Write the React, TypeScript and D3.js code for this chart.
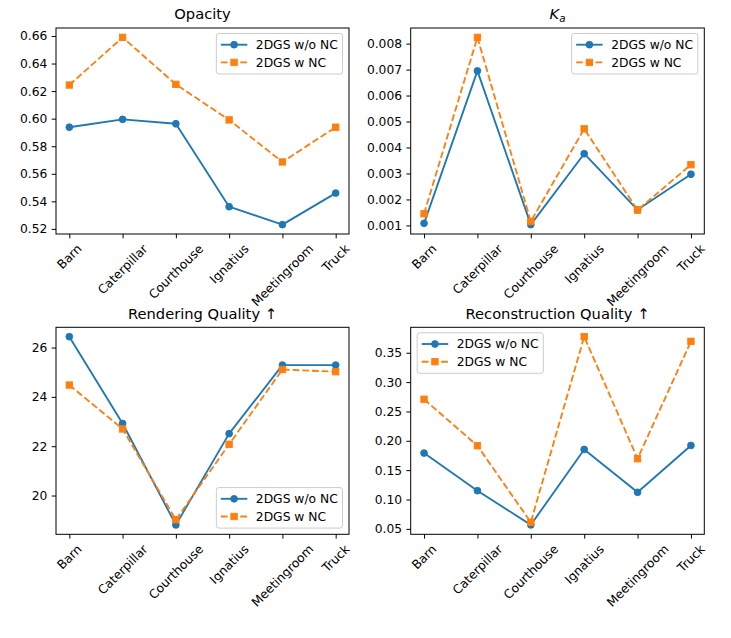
import React, { useEffect, useRef } from "react";
import * as d3 from "d3";

const scenes = ["Barn", "Caterpillar", "Courthouse", "Ignatius", "Meetingroom", "Truck"];
const seriesNames = ["2DGS w/o NC", "2DGS w NC"];

// values
const opacityWithout = [0.5938, 0.5995, 0.5963, 0.5361, 0.5231, 0.546];
const opacityWith = [0.6244, 0.659, 0.6249, 0.5991, 0.5686, 0.5938];
const kaWithout = [0.00108, 0.00695, 0.00103, 0.00376, 0.0016, 0.00297];
const kaWith = [0.00145, 0.00824, 0.00115, 0.00472, 0.00159, 0.00334];
const renderWithout = [26.44, 22.92, 18.81, 22.51, 25.29, 25.29];
const renderWith = [24.48, 22.7, 19.02, 22.08, 25.11, 25.02];
const reconWithout = [0.1791, 0.1151, 0.0568, 0.1853, 0.1123, 0.1921];
const reconWith = [0.2708, 0.1916, 0.0613, 0.3773, 0.1695, 0.3694];

const opacityTicks = [0.52, 0.54, 0.56, 0.58, 0.6, 0.62, 0.64, 0.66];
const kaTicks = [0.001, 0.002, 0.003, 0.004, 0.005, 0.006, 0.007, 0.008];
const renderTicks = [20, 22, 24, 26];
const reconTicks = [0.05, 0.1, 0.15, 0.2, 0.25, 0.3, 0.35];

const colors = ["#1f77b4", "#ff7f0e"];
const font = "DejaVu Sans, sans-serif";
const fs = 12.3;
const titleFs = 14.7;

type Panel = {
  title: string;
  without: number[];
  withNc: number[];
  ticks: number[];
  fmt: string;
  legend: "ur" | "lr" | "ul";
  left: number;
  right: number;
  top: number;
  bottom: number;
};

const cols = [[56, 349], [410.7, 704.3]];
const rows = [[28, 234], [327.3, 534.3]];

const panels: Panel[] = [
  { title: "Opacity", without: opacityWithout, withNc: opacityWith, ticks: opacityTicks, fmt: ".2f", legend: "ur",
    left: cols[0][0], right: cols[0][1], top: rows[0][0], bottom: rows[0][1] },
  { title: "K_a", without: kaWithout, withNc: kaWith, ticks: kaTicks, fmt: ".3f", legend: "ur",
    left: cols[1][0], right: cols[1][1], top: rows[0][0], bottom: rows[0][1] },
  { title: "Rendering Quality ↑", without: renderWithout, withNc: renderWith, ticks: renderTicks, fmt: "d", legend: "lr",
    left: cols[0][0], right: cols[0][1], top: rows[1][0], bottom: rows[1][1] },
  { title: "Reconstruction Quality ↑", without: reconWithout, withNc: reconWith, ticks: reconTicks, fmt: ".2f", legend: "ul",
    left: cols[1][0], right: cols[1][1], top: rows[1][0], bottom: rows[1][1] },
];

function drawMarker(g: any, i: number, cx: number, cy: number) {
  if (i === 0) {
    g.append("circle").attr("cx", cx).attr("cy", cy).attr("r", 3.4)
      .attr("fill", colors[0]).attr("stroke", colors[0]).attr("stroke-width", 0.9);
  } else {
    g.append("rect").attr("x", cx - 3.2).attr("y", cy - 3.2).attr("width", 6.4).attr("height", 6.4)
      .attr("fill", colors[1]).attr("stroke", colors[1]).attr("stroke-width", 0.9);
  }
}

function drawPanel(svg: any, p: Panel) {
  const x = d3.scaleLinear().domain([-0.25, scenes.length - 0.75]).range([p.left, p.right]);
  const all = [...p.without, ...p.withNc];
  const lo = d3.min(all)!;
  const hi = d3.max(all)!;
  const pad = (hi - lo) * 0.05;
  const y = d3.scaleLinear().domain([lo - pad, hi + pad]).range([p.bottom, p.top]);

  const g = svg.append("g");

  // title
  const title = g.append("text")
    .attr("x", (p.left + p.right) / 2)
    .attr("y", p.top - 8.6)
    .attr("text-anchor", "middle")
    .attr("font-family", font)
    .attr("font-size", titleFs)
    .attr("fill", "#000");
  if (p.title === "K_a") {
    title.append("tspan").attr("font-style", "italic").text("K");
    title.append("tspan").attr("font-style", "italic").attr("font-size", titleFs * 0.7).attr("dy", 3).text("a");
  } else {
    title.text(p.title);
  }

  // series
  const line = d3.line<number>().x((_, i) => x(i)).y((d) => y(d));
  [p.without, p.withNc].forEach((vals, si) => {
    const sg = g.append("g");
    sg.append("path")
      .attr("d", line(vals))
      .attr("fill", "none")
      .attr("stroke", colors[si])
      .attr("stroke-width", 1.85)
      .attr("stroke-linejoin", "round")
      .attr("stroke-dasharray", si === 1 ? "6.8,2.9" : null);
    vals.forEach((v, i) => drawMarker(sg, si, x(i), y(v)));
  });

  // y axis
  const yAxis = d3.axisLeft(y).tickValues(p.ticks).tickSize(4.3).tickPadding(4.3).tickFormat(d3.format(p.fmt) as any);
  const yg = g.append("g").attr("transform", `translate(${p.left},0)`).call(yAxis);
  yg.select(".domain").remove();
  yg.selectAll("line").attr("stroke", "#000").attr("stroke-width", 1);
  yg.selectAll("text").attr("font-family", font).attr("font-size", fs).attr("fill", "#000");

  // x axis
  const xAxis = d3.axisBottom(x).tickValues(d3.range(scenes.length)).tickSize(4.3).tickPadding(4.3)
    .tickFormat((d: any) => scenes[d as number]);
  const xg = g.append("g").attr("transform", `translate(0,${p.bottom})`).call(xAxis);
  xg.select(".domain").remove();
  xg.selectAll("line").attr("stroke", "#000").attr("stroke-width", 1);
  xg.selectAll("text")
    .attr("font-family", font)
    .attr("font-size", fs)
    .attr("fill", "#000")
    .attr("text-anchor", "middle")
    .attr("y", 0)
    .attr("dy", "0.3em")
    .each(function (this: SVGTextElement) {
      const w = this.getComputedTextLength();
      const cy = 8.6 + ((w + fs) * Math.SQRT1_2) / 2;
      d3.select(this).attr("transform", `translate(0,${cy}) rotate(-45)`);
    });

  // spines
  g.append("rect")
    .attr("x", p.left).attr("y", p.top)
    .attr("width", p.right - p.left).attr("height", p.bottom - p.top)
    .attr("fill", "none").attr("stroke", "#000").attr("stroke-width", 1);

  // legend
  const lg = g.append("g");
  const texts = seriesNames.map((n) =>
    lg.append("text").attr("font-family", font).attr("font-size", fs).attr("fill", "#000").text(n)
  );
  const textW = d3.max(texts.map((t) => (t.node() as SVGTextElement).getComputedTextLength()))!;
  const boxW = 4.9 * 2 + 24.6 + 9.8 + textW;
  const boxH = 40.5;
  const bx = p.legend === "ul" ? p.left + 6.5 : p.right - 6.5 - boxW;
  const by = p.legend === "lr" ? p.bottom - 6.2 - boxH : p.top + 5.5;
  lg.insert("rect", ":first-child")
    .attr("x", bx).attr("y", by).attr("width", boxW).attr("height", boxH)
    .attr("rx", 2.5)
    .attr("fill", "#fff").attr("fill-opacity", 0.8)
    .attr("stroke", "#cccccc").attr("stroke-width", 1);
  seriesNames.forEach((_, si) => {
    const ry = by + 11.2 + si * 17.7;
    lg.append("line")
      .attr("x1", bx + 4.5).attr("x2", bx + 4.5 + 26.5)
      .attr("y1", ry).attr("y2", ry)
      .attr("stroke", colors[si]).attr("stroke-width", 1.85)
      .attr("stroke-dasharray", si === 1 ? "6.8,2.9" : null);
    drawMarker(lg, si, bx + 4.5 + 13.25, ry);
    texts[si].attr("x", bx + 39.5).attr("y", ry).attr("dy", "0.36em");
  });
}

export default function App() {
  const svgRef = useRef<SVGSVGElement>(null);

  useEffect(() => {
    const svg = d3.select(svgRef.current);
    svg.selectAll("*").remove();
    svg.append("rect").attr("width", 731).attr("height", 638).attr("fill", "#fff");
    panels.forEach((p) => drawPanel(svg, p));
  }, []);

  return (
    <svg ref={svgRef} width={731} height={638} style={{ position: "absolute", left: 0, top: 0 }}></svg>
  );
}
